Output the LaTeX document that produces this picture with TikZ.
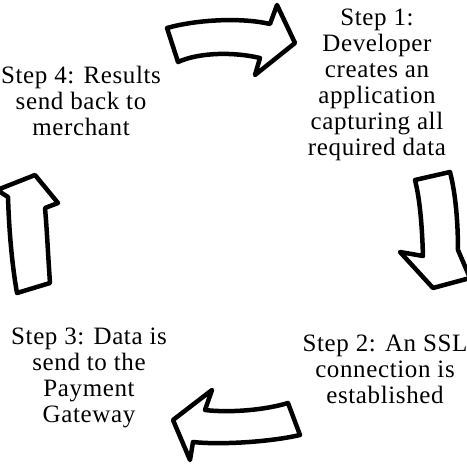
\documentclass[tikz,border=0pt]{standalone}
\usepackage{fontspec}
\setmainfont{Liberation Serif}[LetterSpace=2.5]
\begin{document}
\begin{tikzpicture}[x=1pt,y=-1pt,
  steptext/.style={align=center, inner sep=0pt, anchor=base,
    font=\fontsize{25}{26}\selectfont},
  bigarrow/.style={draw=black, fill=white, line width=4.5pt, line join=round}]
\useasboundingbox (0,0) rectangle (467,467);
\clip (0,0) rectangle (467,467);
% texts (anchor = baseline of the last line)
\node[steptext] (s1) at (377,155) {Step 1:\\Developer\\creates an\\application\\capturing all\\required data};
\node[steptext] (s2) at (385,403) {Step 2: An SSL\\connection is\\established};
\node[steptext] (s3) at (89,422) {Step 3: Data is\\send to the\\Payment\\Gateway};
\node[steptext] (s4) at (81,135) {Step 4: Results\\send back to\\merchant};
% top arrow
\draw[bigarrow] (167,28) .. controls (195,20) and (240,17) .. (270,24)
  -- (277,5) -- (295,43) -- (255,75) -- (260,58)
  .. controls (235,52) and (200,52) .. (178,62) -- cycle;
% right arrow
\draw[bigarrow] (415,180) -- (450,172)
  .. controls (456,195) and (458,225) .. (458,250)
  -- (470,278) -- (433,288) -- (400,252) -- (423,256)
  .. controls (422,225) and (420,200) .. (415,180) -- cycle;
% bottom arrow
\draw[bigarrow] (288,403) -- (300,435)
  .. controls (270,442) and (220,445) .. (193,442)
  -- (190,460) -- (173,420) -- (212,390) -- (205,410)
  .. controls (230,413) and (265,410) .. (288,403) -- cycle;
% left arrow
\draw[bigarrow] (17,293) -- (50,283)
  .. controls (48,255) and (47,230) .. (45,208)
  -- (58,203) -- (35,175) -- (-3,190) -- (8,197)
  .. controls (9,230) and (12,265) .. (17,293) -- cycle;
\end{tikzpicture}
\end{document}
